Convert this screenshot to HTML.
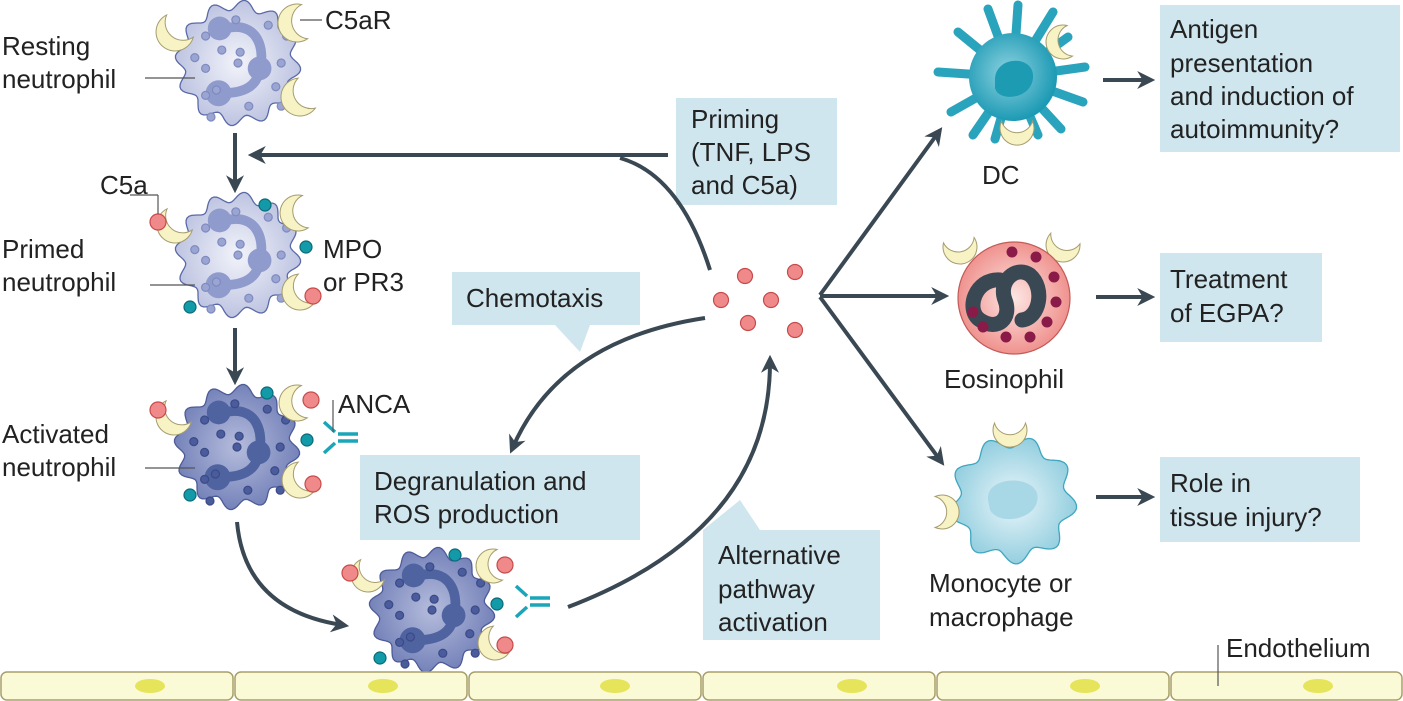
<!DOCTYPE html>
<html><head><meta charset="utf-8"><style>
html,body{margin:0;padding:0;background:#fff;}
svg{display:block;font-family:"Liberation Sans",sans-serif;}
text{font-size:26px;fill:#222;}
</style></head><body>
<svg id="s" width="1403" height="701" viewBox="0 0 1403 701" xmlns="http://www.w3.org/2000/svg">
<defs>
<radialGradient id="gl" cx="50%" cy="50%" r="55%"><stop offset="0" stop-color="#f2f3fa"/><stop offset="1" stop-color="#b9c0df"/></radialGradient>
<radialGradient id="gd" cx="50%" cy="50%" r="55%"><stop offset="0" stop-color="#b5bcdc"/><stop offset="1" stop-color="#6f7db6"/></radialGradient>
<radialGradient id="gdc" cx="45%" cy="45%" r="55%"><stop offset="0" stop-color="#8fd2e0"/><stop offset="1" stop-color="#1c9ab4"/></radialGradient>
<radialGradient id="geo" cx="50%" cy="50%" r="55%"><stop offset="0" stop-color="#fde6e3"/><stop offset="1" stop-color="#ee8a86"/></radialGradient>
<radialGradient id="gmo" cx="50%" cy="50%" r="55%"><stop offset="0" stop-color="#eaf6fa"/><stop offset="1" stop-color="#8ccbdd"/></radialGradient>
<marker id="ah" viewBox="0 0 10 10" refX="6" refY="5" markerWidth="4.5" markerHeight="4.5" orient="auto"><path d="M0,0 L10,5 L0,10 L3,5 Z" fill="#3a4853"/></marker>
</defs>
<g id="cells"></g>
<g stroke="#a89f6a" stroke-width="1.5" fill="#fbfad6">
<rect x="1" y="672" width="232" height="28" rx="6"/><rect x="235" y="672" width="232" height="28" rx="6"/><rect x="469" y="672" width="232" height="28" rx="6"/><rect x="703" y="672" width="232" height="28" rx="6"/><rect x="937" y="672" width="232" height="28" rx="6"/><rect x="1171" y="672" width="231" height="28" rx="6"/>
</g>
<g fill="#e6e45a"><ellipse cx="150" cy="686" rx="15" ry="7"/><ellipse cx="383" cy="686" rx="15" ry="7"/><ellipse cx="615" cy="686" rx="15" ry="7"/><ellipse cx="852" cy="686" rx="15" ry="7"/><ellipse cx="1085" cy="686" rx="15" ry="7"/><ellipse cx="1318" cy="686" rx="15" ry="7"/></g>
<line x1="1218" y1="645" x2="1218" y2="686" stroke="#555" stroke-width="1.2"/>
<text x="1226" y="657">Endothelium</text>

<g fill="#cfe6ee">
<rect x="676" y="98" width="161" height="107"/>
<path d="M452,272 H640 V325 H590 L580,352 L555,325 H452 Z"/>
<rect x="360" y="455" width="280" height="85"/>
<path d="M703,530 L740,500 L760,530 H880 V640 H703 Z"/>
<rect x="1160" y="5" width="240" height="147"/>
<rect x="1160" y="253" width="162" height="89"/>
<rect x="1160" y="457" width="200" height="85"/>
</g>
<text x="691" y="128">Priming</text><text x="691" y="161">(TNF, LPS</text><text x="691" y="194">and C5a)</text>
<text x="466" y="307">Chemotaxis</text>
<text x="374" y="490">Degranulation and</text><text x="374" y="523">ROS production</text>
<text x="718" y="564">Alternative</text><text x="718" y="598">pathway</text><text x="718" y="631">activation</text>
<text x="1170" y="38">Antigen</text><text x="1170" y="72">presentation</text><text x="1170" y="105">and induction of</text><text x="1170" y="138">autoimmunity?</text>
<text x="1170" y="288">Treatment</text><text x="1170" y="322">of EGPA?</text>
<text x="1170" y="492">Role in</text><text x="1170" y="526">tissue injury?</text>

<g stroke="#3a4853" stroke-width="4" fill="none" marker-end="url(#ah)">
<line x1="235" y1="133" x2="235" y2="186"/>
<line x1="235" y1="328" x2="235" y2="378"/>
<path d="M237,522 Q245,610 342,625"/>
<line x1="668" y1="155" x2="255" y2="155"/>
<path d="M705,318 Q560,340 513,447"/>
<path d="M568,607 Q770,530 770,362"/>
<line x1="820" y1="295" x2="938" y2="133"/>
<line x1="820" y1="296" x2="942" y2="296"/>
<line x1="820" y1="297" x2="940" y2="460"/>
<line x1="1103" y1="80" x2="1148" y2="80"/>
<line x1="1096" y1="297" x2="1148" y2="297"/>
<line x1="1096" y1="497" x2="1148" y2="497"/>
</g>
<path d="M710,270 Q680,175 620,158" stroke="#3a4853" stroke-width="4" fill="none"/>

<g fill="#f08a8a" stroke="#c74a4a" stroke-width="1.2">
<circle cx="745" cy="276" r="7.5"/><circle cx="795" cy="272" r="7.5"/><circle cx="721" cy="300" r="7.5"/><circle cx="771" cy="300" r="7.5"/><circle cx="748" cy="323" r="7.5"/><circle cx="795" cy="330" r="7.5"/>
</g>

<g stroke="#555" stroke-width="1.2">
<line x1="300" y1="20" x2="322" y2="20"/><line x1="145" y1="78" x2="195" y2="78"/>
<line x1="130" y1="195" x2="158" y2="195"/><line x1="158" y1="195" x2="158" y2="214"/><line x1="150" y1="285" x2="195" y2="285"/>
<line x1="145" y1="468" x2="195" y2="468"/><line x1="333" y1="400" x2="333" y2="432"/>
</g>
<text x="325" y="29">C5aR</text>
<text x="2" y="55">Resting</text><text x="2" y="88">neutrophil</text>
<text x="100" y="194">C5a</text>
<text x="2" y="258">Primed</text><text x="2" y="291">neutrophil</text>
<text x="323" y="258">MPO</text><text x="323" y="291">or PR3</text>
<text x="2" y="443">Activated</text><text x="2" y="476">neutrophil</text>
<text x="338" y="413">ANCA</text>
<text x="982" y="184">DC</text>
<text x="944" y="388">Eosinophil</text>
<text x="929" y="592">Monocyte or</text><text x="929" y="626">macrophage</text>
</svg>
<script>
(function(){
var NS="http://www.w3.org/2000/svg",g=document.getElementById("cells");
function el(t,a){var e=document.createElementNS(NS,t);for(var k in a)e.setAttribute(k,a[k]);g.appendChild(e);return e;}
function wavy(cx,cy,r,amp,n,ph){var d="";for(var i=0;i<=160;i++){var t=i/160*Math.PI*2;var rr=r+amp*Math.sin(n*t+ph);d+=(i?"L":"M")+(cx+rr*Math.cos(t)).toFixed(1)+","+(cy+rr*Math.sin(t)).toFixed(1);}return d+"Z";}
function moon(cx,cy,r,ang){var a=ang*Math.PI/180,h=1.15;
 var x1=cx+r*Math.cos(a+h),y1=cy+r*Math.sin(a+h),x2=cx+r*Math.cos(a-h),y2=cy+r*Math.sin(a-h),R=r*0.95;
 el("path",{d:"M"+x1.toFixed(1)+","+y1.toFixed(1)+" A"+r+","+r+" 0 1 1 "+x2.toFixed(1)+","+y2.toFixed(1)+" A"+R+","+R+" 0 0 0 "+x1.toFixed(1)+","+y1.toFixed(1)+"Z",fill:"#f8f3c4",stroke:"#a59c70","stroke-width":1});}
function dot(x,y,r,f,s){el("circle",{cx:x,cy:y,r:r,fill:f,stroke:s,"stroke-width":1.2});}
function neut(cx,cy,dark){var sc=1.08;
 el("path",{d:wavy(cx,cy,58,5,12,0.3),fill:dark?"url(#gd)":"url(#gl)",stroke:dark?"#4d5b98":"#5a6aa8","stroke-width":1.3});
 var nc=dark?"#4e63a0":"#8f9bcc";
 el("path",{d:"M"+(cx-12*sc)+","+(cy-32*sc)+" C"+(cx+20*sc)+","+(cy-40*sc)+" "+(cx+25*sc)+","+(cy-10*sc)+" "+(cx+20*sc)+","+(cy+5*sc)+" C"+(cx+18*sc)+","+(cy+25*sc)+" "+(cx)+","+(cy+28*sc)+" "+(cx-15*sc)+","+(cy+28*sc),stroke:nc,"stroke-width":9*sc,fill:"none","stroke-linecap":"round"});
 dot(cx-17*sc,cy-32*sc,11*sc,nc,"none");dot(cx+20*sc,cy+5*sc,11*sc,nc,"none");dot(cx-18*sc,cy+28*sc,12*sc,nc,"none");
 var gc=dark?"#4b5c9c":"#9aa5d2",pts=[[-2,-40],[28,-35],[-30,-25],[-15,-12],[45,-25],[-30,5],[2,-10],[-20,25],[0,0],[40,0],[35,22],[-30,30],[10,40],[40,40],[-25,50],[-40,-5]];
 pts.forEach(function(p){dot(cx+p[0]*sc,cy+p[1]*sc,4,gc,dark?"#3b4a88":"#7f8bc0");});}
var R="#f08a8a",RS="#c74a4a",T="#139aa9",TS="#0b6a78";
neut(238,63,false);moon(175,32,19,-50);moon(297,23,19,-10);moon(300,97,19,-30);
neut(238,255,false);moon(175,225,18,-50);moon(298,213,18,-10);moon(300,292,18,-30);
dot(158,222,8,R,RS);dot(313,296,8,R,RS);
dot(265,205,6,T,TS);dot(306,247,6,T,TS);dot(190,307,6,T,TS);
neut(237,447,true);moon(174,417,18,-50);moon(297,403,18,-10);moon(300,480,18,-30);
dot(158,410,8,R,RS);dot(311,400,8,R,RS);dot(313,484,8,R,RS);
dot(267,393,6,T,TS);dot(307,440,6,T,TS);dot(190,495,6,T,TS);
neut(432,610,true);moon(368,575,17,-50);moon(493,566,17,-10);moon(495,643,17,-30);
dot(350,573,8,R,RS);dot(505,565,8,R,RS);dot(505,645,8,R,RS);
dot(455,555,6,T,TS);dot(497,604,6,T,TS);dot(380,658,6,T,TS);
function anca(x,y){var s={stroke:"#1aa6b8","stroke-width":3.5,fill:"none"};
 el("path",Object.assign({d:"M"+x+","+y+" H"+(x+20)},s));el("path",Object.assign({d:"M"+x+","+(y+7)+" H"+(x+20)},s));
 el("path",Object.assign({d:"M"+(x-3)+","+(y-2)+" L"+(x-14)+","+(y-12)},s));el("path",Object.assign({d:"M"+(x-3)+","+(y+9)+" L"+(x-14)+","+(y+19)},s));}
anca(338,434);anca(530,598);
var dcp=[[-75,-5],[-62,35],[-40,58],[-18,62],[25,58],[48,52],[70,25],[72,-10],[55,-40],[40,-65],[5,-72],[-25,-68],[-55,-45]];
dcp.forEach(function(p){el("line",{x1:1013,y1:77,x2:1013+p[0],y2:77+p[1],stroke:"#2aa3bc","stroke-width":9,"stroke-linecap":"round"});});
el("circle",{cx:1013,cy:77,r:44,fill:"url(#gdc)"});
el("path",{d:"M995,78 C997,55 1035,55 1033,78 C1031,100 998,102 995,88Z",fill:"#1d9bb3"});
moon(1063,42,17,-10);moon(1017,128,17,-90);
moon(960,247,17,-100);moon(1063,245,17,-70);
el("circle",{cx:1014,cy:298,r:56,fill:"url(#geo)",stroke:"#c25a58","stroke-width":1.2});
el("path",{d:"M1000,280 C975,278 965,310 980,320 C998,332 1012,318 1005,300 C998,282 1015,265 1030,275 C1045,288 1040,318 1022,320",stroke:"#3a4853","stroke-width":15,fill:"none","stroke-linecap":"round"});
[[1012,252],[1036,257],[1054,277],[1056,302],[1047,322],[1030,337],[1006,337],[983,327],[973,312]].forEach(function(p){dot(p[0],p[1],5.5,"#8a1b48","none");});
el("path",{d:wavy(1013,500,58,6,9,0.5),fill:"url(#gmo)",stroke:"#3fa6c0","stroke-width":1.3});
el("path",{d:"M988,500 C985,477 1030,474 1037,493 C1043,518 1000,528 990,510Z",fill:"#a8d8e6"});
moon(1010,430,17,-90);moon(942,512,17,180);
})();
</script>
</body></html>
